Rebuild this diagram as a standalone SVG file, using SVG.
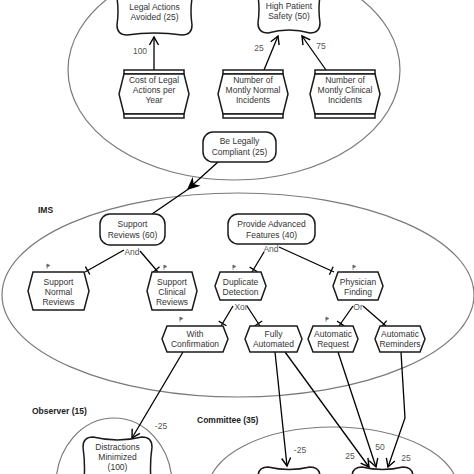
<svg xmlns="http://www.w3.org/2000/svg" width="474" height="474" viewBox="0 0 474 474">
<defs>
<marker id="open" markerUnits="userSpaceOnUse" markerWidth="14" markerHeight="14" viewBox="-10 -7 14 14" refX="0" refY="0" orient="auto">
<path d="M-8,-4.5 L0,0 L-8,4.5" fill="none" stroke="#000" stroke-width="1.4"/>
</marker>
<marker id="bar" markerUnits="userSpaceOnUse" markerWidth="14" markerHeight="14" viewBox="-10 -7 14 14" refX="0" refY="0" orient="auto">
<path d="M-3,-4.5 L-3,4.5" fill="none" stroke="#000" stroke-width="1.3"/>
</marker>
<marker id="dep" markerUnits="userSpaceOnUse" markerWidth="18" markerHeight="18" viewBox="-15 -9 18 18" refX="0" refY="0" orient="auto">
<path d="M-13,-6 L0,0 L-13,6 L-9,0 Z" fill="#000"/>
</marker>
</defs>
<style>
.actor{fill:none;stroke:#7a7a7a;stroke-width:1.2}
.node{fill:#fff;stroke:#1a1a1a;stroke-width:1.5}
.t{font-family:"Liberation Sans",Arial,sans-serif;font-size:8.5px;fill:#333;text-anchor:middle}
.lbl{font-family:"Liberation Sans",Arial,sans-serif;font-size:8.5px;fill:#555;text-anchor:middle}
.an{font-family:"Liberation Sans",Arial,sans-serif;font-size:8.5px;font-weight:bold;fill:#222}
.ln{fill:none;stroke:#000;stroke-width:1.3}
.flag{fill:#666;stroke:#666;stroke-width:0.6}
</style>

<g id="actors">
<ellipse class="actor" cx="234" cy="70" rx="166" ry="110"/>
<ellipse class="actor" cx="238" cy="295" rx="236" ry="102"/>
<ellipse class="actor" cx="114" cy="485" rx="58" ry="67"/>
<ellipse class="actor" cx="333" cy="490" rx="125" ry="63"/>
<text class="an" x="38" y="213">IMS</text>
<text class="an" x="32" y="414">Observer  (15)</text>
<text class="an" x="197" y="423">Committee  (35)</text>
</g>

<g id="connectors">
<line class="ln" x1="154" y1="70" x2="154" y2="37" marker-end="url(#open)"/>
<line class="ln" x1="264" y1="70" x2="278" y2="36" marker-end="url(#open)"/>
<line class="ln" x1="326" y1="70" x2="302" y2="36" marker-end="url(#open)"/>
<text class="lbl" x="140" y="54">100</text>
<text class="lbl" x="259" y="51">25</text>
<text class="lbl" x="321" y="49">75</text>
<line class="ln" x1="218" y1="162" x2="187" y2="190" marker-end="url(#dep)"/>
<line class="ln" x1="187" y1="190" x2="152" y2="214"/>
<line class="ln" x1="124" y1="250" x2="85" y2="272" marker-end="url(#bar)"/>
<line class="ln" x1="140" y1="251" x2="158" y2="272" marker-end="url(#bar)"/>
<line class="ln" x1="264" y1="252" x2="252" y2="272" marker-end="url(#bar)"/>
<line class="ln" x1="279" y1="247" x2="334" y2="272" marker-end="url(#bar)"/>
<line class="ln" x1="233" y1="306" x2="221" y2="326" marker-end="url(#bar)"/>
<line class="ln" x1="247" y1="306" x2="260" y2="326" marker-end="url(#bar)"/>
<line class="ln" x1="353" y1="306" x2="339" y2="326" marker-end="url(#bar)"/>
<line class="ln" x1="363" y1="306" x2="386" y2="326" marker-end="url(#bar)"/>
<text class="lbl" x="132" y="255">And</text>
<text class="lbl" x="271" y="252">And</text>
<text class="lbl" x="241" y="310">Xor</text>
<text class="lbl" x="358" y="310">Or</text>
<line class="ln" x1="183" y1="352" x2="132" y2="438" marker-end="url(#open)"/>
<line class="ln" x1="275" y1="352" x2="287" y2="466" marker-end="url(#open)"/>
<line class="ln" x1="285" y1="352" x2="369" y2="467" marker-end="url(#open)"/>
<line class="ln" x1="338" y1="352" x2="376" y2="467" marker-end="url(#open)"/>
<polyline class="ln" points="401,352 405,418 388,467" marker-end="url(#open)"/>
<text class="lbl" x="161" y="429">-25</text>
<text class="lbl" x="300" y="453">-25</text>
<text class="lbl" x="350" y="459">25</text>
<text class="lbl" x="380" y="450">50</text>
<text class="lbl" x="406" y="461">25</text>
</g>

<g id="legal-actions-avoided">
<path class="node" d="M127,-12 Q154.5,-7 182,-12 Q192,-12 192,-2 Q190,11.5 192,25 Q192,35 182,35 Q154.5,31 127,35 Q117,35 117,25 Q119,11.5 117,-2 Q117,-12 127,-12 Z"/>
<text class="t" x="154.5" y="10">Legal Actions</text>
<text class="t" x="154.5" y="20">Avoided  (25)</text>
</g>

<g id="high-patient-safety">
<path class="node" d="M268,-14 Q289,-9 310,-14 Q320,-14 320,-4 Q318,9.5 320,23 Q320,33 310,33 Q289,27 268,33 Q258,33 258,23 Q260,9.5 258,-4 Q258,-14 268,-14 Z"/>
<text class="t" x="289" y="9">High Patient</text>
<text class="t" x="289" y="19">Safety  (50)</text>
</g>

<g id="cost-legal-actions">
<rect class="node" x="124" y="70" width="60" height="4"/>
<polygon class="node" points="124,74 184,74 189,94 184,114 124,114 119,94"/>
<rect class="node" x="124" y="114" width="60" height="4"/>
<text class="t" x="154" y="83">Cost of Legal</text>
<text class="t" x="154" y="93">Actions per</text>
<text class="t" x="154" y="103">Year</text>
</g>

<g id="normal-incidents">
<rect class="node" x="223" y="70" width="60" height="4"/>
<polygon class="node" points="223,74 283,74 288,94 283,114 223,114 218,94"/>
<rect class="node" x="223" y="114" width="60" height="4"/>
<text class="t" x="253" y="83">Number of</text>
<text class="t" x="253" y="93">Montly Normal</text>
<text class="t" x="253" y="103">Incidents</text>
</g>

<g id="clinical-incidents">
<rect class="node" x="315" y="70" width="60" height="4"/>
<polygon class="node" points="315,74 375,74 380,94 375,114 315,114 310,94"/>
<rect class="node" x="315" y="114" width="60" height="4"/>
<text class="t" x="345" y="83">Number of</text>
<text class="t" x="345" y="93">Montly Clinical</text>
<text class="t" x="345" y="103">Incidents</text>
</g>

<g id="be-legally-compliant">
<rect class="node" x="203" y="132" width="73" height="30" rx="10"/>
<text class="t" x="239.5" y="144">Be Legally</text>
<text class="t" x="239.5" y="155">Compliant  (25)</text>
</g>

<g id="support-reviews">
<rect class="node" x="100" y="214" width="65" height="31" rx="10"/>
<text class="t" x="132.5" y="227">Support</text>
<text class="t" x="132.5" y="238">Reviews  (60)</text>
</g>

<g id="provide-advanced-features">
<rect class="node" x="228" y="214" width="87" height="30" rx="10"/>
<text class="t" x="271.5" y="227">Provide Advanced</text>
<text class="t" x="271.5" y="238">Features  (40)</text>
</g>

<g id="support-normal-reviews">
<path class="flag" d="M47,264 L47,269 M47,264 L50,265.5 L47,267 Z"/>
<polygon class="node" points="33,272 84,272 89,291 84,310 33,310 28,291"/>
<text class="t" x="58.5" y="285">Support</text>
<text class="t" x="58.5" y="295">Normal</text>
<text class="t" x="58.5" y="305">Reviews</text>
</g>

<g id="support-clinical-reviews">
<path class="flag" d="M164,265 L164,270 M164,265 L167,266.5 L164,268 Z"/>
<polygon class="node" points="152,272 192,272 197,291 192,310 152,310 147,291"/>
<text class="t" x="172" y="285">Support</text>
<text class="t" x="172" y="295">Clinical</text>
<text class="t" x="172" y="305">Reviews</text>
</g>

<g id="duplicate-detection">
<path class="flag" d="M233,265 L233,270 M233,265 L236,266.5 L233,268 Z"/>
<polygon class="node" points="220,272 261,272 266,286 261,300 220,300 215,286"/>
<text class="t" x="240.5" y="285">Duplicate</text>
<text class="t" x="240.5" y="295">Detection</text>
</g>

<g id="physician-finding">
<path class="flag" d="M353,265 L353,270 M353,265 L356,266.5 L353,268 Z"/>
<polygon class="node" points="338,272 378,272 383,286 378,300 338,300 333,286"/>
<text class="t" x="358" y="285">Physician</text>
<text class="t" x="358" y="295">Finding</text>
</g>

<g id="with-confirmation">
<path class="flag" d="M180,317 L180,322 M180,317 L183,318.5 L180,320 Z"/>
<polygon class="node" points="167,326 223,326 228,339 223,352 167,352 162,339"/>
<text class="t" x="195" y="337">With</text>
<text class="t" x="195" y="347">Confirmation</text>
</g>

<g id="fully-automated">
<polygon class="node" points="250,326 297,326 302,339 297,352 250,352 245,339"/>
<text class="t" x="273.5" y="337">Fully</text>
<text class="t" x="273.5" y="347">Automated</text>
</g>

<g id="automatic-request">
<path class="flag" d="M326,317 L326,322 M326,317 L329,318.5 L326,320 Z"/>
<polygon class="node" points="313,326 353,326 358,339 353,352 313,352 308,339"/>
<text class="t" x="333" y="337">Automatic</text>
<text class="t" x="333" y="347">Request</text>
</g>

<g id="automatic-reminders">
<polygon class="node" points="380,326 420,326 425,339 420,352 380,352 375,339"/>
<text class="t" x="400" y="337">Automatic</text>
<text class="t" x="400" y="347">Reminders</text>
</g>

<g id="distractions-minimized">
<path class="node" d="M93,437 Q117.5,443 142,437 Q152,437 152,447 Q149,468 152,490 L152,500 L83,500 L83,490 Q86,468 83,447 Q83,437 93,437 Z"/>
<text class="t" x="117.5" y="450">Distractions</text>
<text class="t" x="117.5" y="460">Minimized</text>
<text class="t" x="117.5" y="470">(100)</text>
</g>

<g id="committee-softgoal-1">
<path class="node" d="M268,467 Q289,472 310,467 Q320,467 320,477 L320,510 L258,510 L258,477 Q258,467 268,467 Z"/>
</g>

<g id="committee-softgoal-2">
<path class="node" d="M362,467 Q382.5,472 403,467 Q413,467 413,477 L413,510 L352,510 L352,477 Q352,467 362,467 Z"/>
</g>
</svg>
